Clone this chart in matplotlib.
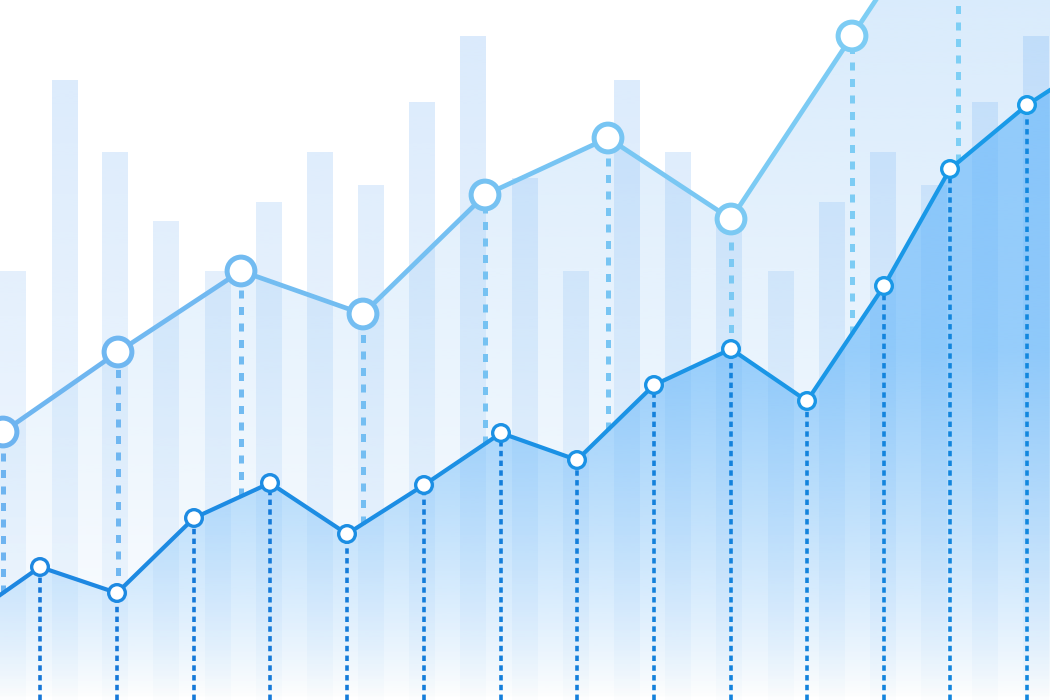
import numpy as np
import matplotlib
matplotlib.use("Agg")
import matplotlib.pyplot as plt
from matplotlib.collections import LineCollection

# background bars (slot centre, height)
bar_x = [13, 65, 115, 166, 218, 269, 320, 371, 422, 473, 525, 576, 627, 678,
         729, 781, 832, 883, 934, 985, 1036]
bar_h = [429, 620, 548, 479, 429, 498, 548, 515, 598, 664, 522, 429, 620, 548,
         479, 429, 498, 548, 515, 598, 664]

# upper (light) series, last point runs off the top
light_x = [3, 118, 241, 363, 485, 608, 731, 852, 958]
light_y = [268, 348, 429, 386, 505, 562, 481, 664, 824]

# lower (dark) series, first and last points sit outside the frame
dark_x = [-37, 40, 117, 194, 270, 347, 424, 501, 577, 654, 731, 807, 884, 950, 1027, 1104]
dark_y = [79, 133, 107, 182, 217, 166, 215, 267, 240, 315, 351, 299, 414, 531, 595, 645]

XMAX, YMAX = 1050, 700


def vgrad(rgb, alpha):
    img = np.zeros((len(alpha), 1, 4))
    img[..., :3] = np.array(rgb) / 255.0
    img[..., 3] = alpha[:, None]
    return img


def xcolor(x, c0, c1):
    f = np.clip(np.asarray(x, float) / XMAX, 0, 1)[:, None]
    return (np.array(c0) * (1 - f) + np.array(c1) * f) / 255.0


fig = plt.figure(figsize=(10.5, 7), dpi=100)
ax = fig.add_axes([0, 0, 1, 1])
ax.set_axis_off()
fig.patch.set_facecolor("white")

t = np.linspace(0, 1, 256)
ext = (0, XMAX, 0, YMAX)

# bars with a soft vertical fade
bars = ax.bar(bar_x, bar_h, width=26, facecolor="none", edgecolor="none")
bar_img = vgrad((130, 185, 245), 0.02 + 0.28 * t ** 0.7)
for b in bars:
    im = ax.imshow(bar_img, extent=ext, origin="lower", aspect="auto",
                   interpolation="bilinear", zorder=1)
    im.set_clip_path(b)

grid = np.linspace(0, XMAX, 600)

# light area under upper line
light_fill = ax.fill_between(grid, np.interp(grid, light_x, light_y), 0,
                             facecolor="none", edgecolor="none")
im = ax.imshow(vgrad((130, 190, 245), 0.30 * t ** 0.8), extent=ext, origin="lower",
               aspect="auto", interpolation="bilinear", zorder=2)
im.set_clip_path(light_fill.get_paths()[0], transform=ax.transData)

# stronger area under lower line
dark_fill = ax.fill_between(grid, np.interp(grid, dark_x, dark_y), 0,
                            facecolor="none", edgecolor="none")
a_dark = 0.62 * np.clip(t / 0.5, 0, 1) ** 0.9
im = ax.imshow(vgrad((100, 182, 250), a_dark), extent=ext, origin="lower",
               aspect="auto", interpolation="bilinear", zorder=3)
im.set_clip_path(dark_fill.get_paths()[0], transform=ax.transData)

light_c0, light_c1 = (110, 180, 240), (128, 210, 245)
dark_c0, dark_c1 = (30, 135, 225), (25, 155, 232)

# light drop lines end on the lower line
ax.vlines(light_x, np.interp(light_x, dark_x, dark_y), light_y,
          colors=xcolor(light_x, light_c0, light_c1), linewidth=3.6,
          linestyles=[(0, (1.6, 1.7))], zorder=4)

# dark drop lines down to the base
ax.vlines(dark_x, 0, dark_y, colors=xcolor(dark_x, (22, 118, 215), (18, 135, 222)),
          linewidth=2.6, linestyles=[(0, (1.5, 1.2))], zorder=5)

# upper line with a slight colour shift
pts = np.column_stack([light_x, light_y])
segs = np.stack([pts[:-1], pts[1:]], axis=1)
mid = (pts[:-1, 0] + pts[1:, 0]) / 2
ax.add_collection(LineCollection(segs, colors=xcolor(mid, light_c0, light_c1),
                                 linewidths=3.4, capstyle="round", zorder=6))
ax.scatter(light_x, light_y, s=400, facecolor="white",
           edgecolors=xcolor(light_x, light_c0, light_c1), linewidths=3.6, zorder=7)

# lower line
pts = np.column_stack([dark_x, dark_y])
segs = np.stack([pts[:-1], pts[1:]], axis=1)
mid = (pts[:-1, 0] + pts[1:, 0]) / 2
ax.add_collection(LineCollection(segs, colors=xcolor(mid, dark_c0, dark_c1),
                                 linewidths=3.0, capstyle="round", zorder=8))
ax.scatter(dark_x, dark_y, s=144, facecolor="white",
           edgecolors=xcolor(dark_x, dark_c0, dark_c1), linewidths=2.4, zorder=9)

ax.set_xlim(0, XMAX)
ax.set_ylim(0, YMAX)
fig.savefig("out.png", dpi=100, facecolor="white")
